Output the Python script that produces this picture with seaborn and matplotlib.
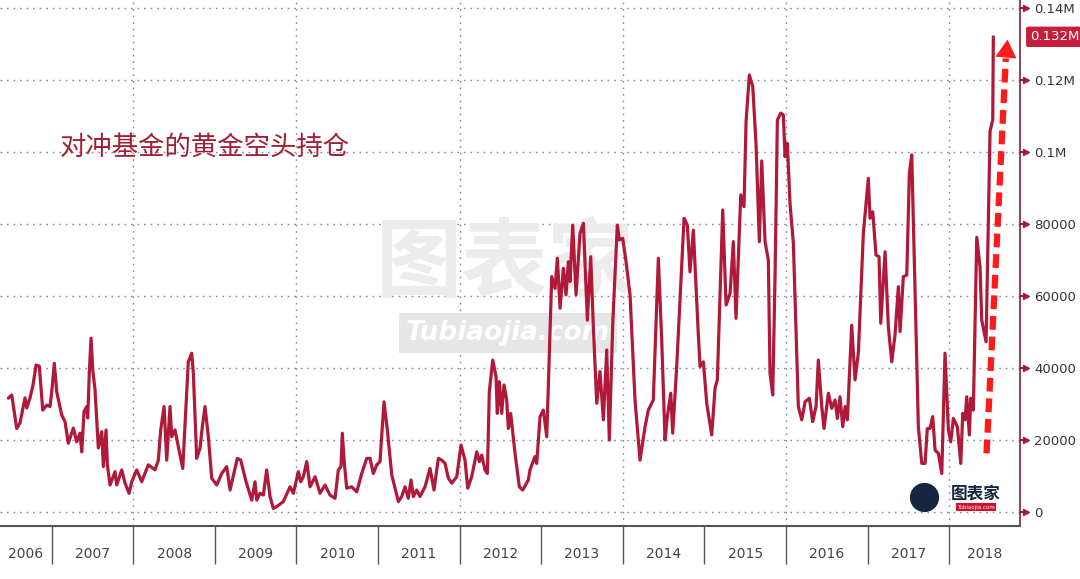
import numpy as np
import pandas as pd
import matplotlib
matplotlib.use("Agg")
import matplotlib.pyplot as plt
import matplotlib.transforms as mtransforms
import seaborn as sns

# Data (decimal years, contracts)
dates = [
    2006.468, 2006.510, 2006.571, 2006.611, 2006.673, 2006.694, 2006.734, 2006.771, 2006.808, 2006.848,
    2006.890, 2006.939, 2006.979, 2007.000, 2007.032, 2007.061, 2007.123, 2007.163, 2007.203, 2007.265,
    2007.306, 2007.347, 2007.368, 2007.396, 2007.429, 2007.441, 2007.461, 2007.482, 2007.503, 2007.531,
    2007.571, 2007.613, 2007.633, 2007.666, 2007.682, 2007.715, 2007.776, 2007.797, 2007.858, 2007.899,
    2007.948, 2007.981, 2008.042, 2008.103, 2008.184, 2008.266, 2008.307, 2008.336, 2008.377, 2008.410,
    2008.450, 2008.471, 2008.511, 2008.606, 2008.674, 2008.716, 2008.736, 2008.777, 2008.818, 2008.846,
    2008.879, 2008.920, 2008.961, 2009.023, 2009.084, 2009.145, 2009.186, 2009.275, 2009.317, 2009.382,
    2009.452, 2009.492, 2009.513, 2009.553, 2009.594, 2009.635, 2009.676, 2009.716, 2009.758, 2009.839,
    2009.921, 2009.962, 2010.023, 2010.052, 2010.084, 2010.126, 2010.166, 2010.228, 2010.289, 2010.350,
    2010.411, 2010.473, 2010.513, 2010.546, 2010.562, 2010.587, 2010.616, 2010.677, 2010.739, 2010.800,
    2010.861, 2010.902, 2010.942, 2010.984, 2011.024, 2011.073, 2011.114, 2011.168, 2011.208, 2011.249,
    2011.290, 2011.331, 2011.371, 2011.404, 2011.433, 2011.474, 2011.515, 2011.576, 2011.637, 2011.686,
    2011.739, 2011.781, 2011.821, 2011.862, 2011.903, 2011.965, 2012.017, 2012.066, 2012.099, 2012.148,
    2012.210, 2012.242, 2012.271, 2012.311, 2012.340, 2012.364, 2012.406, 2012.446, 2012.462, 2012.487,
    2012.516, 2012.544, 2012.577, 2012.597, 2012.626, 2012.679, 2012.732, 2012.774, 2012.842, 2012.863,
    2012.924, 2012.945, 2012.986, 2013.026, 2013.068, 2013.087, 2013.129, 2013.170, 2013.198, 2013.231,
    2013.272, 2013.304, 2013.333, 2013.353, 2013.386, 2013.427, 2013.476, 2013.517, 2013.566, 2013.607,
    2013.639, 2013.681, 2013.721, 2013.762, 2013.803, 2013.835, 2013.877, 2013.933, 2013.958, 2013.999,
    2014.040, 2014.089, 2014.150, 2014.211, 2014.273, 2014.313, 2014.374, 2014.436, 2014.477, 2014.518,
    2014.546, 2014.588, 2014.612, 2014.661, 2014.751, 2014.791, 2014.824, 2014.865, 2014.926, 2014.947,
    2014.988, 2015.029, 2015.090, 2015.131, 2015.159, 2015.225, 2015.266, 2015.315, 2015.355, 2015.388,
    2015.446, 2015.486, 2015.511, 2015.551, 2015.593, 2015.633, 2015.674, 2015.703, 2015.744, 2015.784,
    2015.805, 2015.838, 2015.867, 2015.895, 2015.936, 2015.968, 2015.989, 2016.017, 2016.050, 2016.091,
    2016.152, 2016.194, 2016.234, 2016.287, 2016.328, 2016.369, 2016.397, 2016.439, 2016.467, 2016.520,
    2016.561, 2016.602, 2016.630, 2016.663, 2016.696, 2016.725, 2016.753, 2016.786, 2016.806, 2016.847,
    2016.887, 2016.949, 2017.010, 2017.031, 2017.064, 2017.104, 2017.141, 2017.162, 2017.215, 2017.255,
    2017.297, 2017.337, 2017.378, 2017.399, 2017.439, 2017.481, 2017.513, 2017.542, 2017.583, 2017.623,
    2017.665, 2017.705, 2017.733, 2017.766, 2017.799, 2017.828, 2017.868, 2017.910, 2017.950, 2017.991,
    2018.020, 2018.052, 2018.101, 2018.143, 2018.167, 2018.196, 2018.216, 2018.248, 2018.265, 2018.297,
    2018.339, 2018.379, 2018.400, 2018.453, 2018.502, 2018.535, 2018.542,
]
shorts = [
    31600, 32500, 23200, 24700, 31700, 28900, 31700, 35300, 40800, 40500,
    28300, 29700, 29300, 33400, 41300, 33400, 26900, 25100, 19100, 23300,
    19500, 21900, 16700, 27900, 29300, 26100, 39000, 48300, 39400, 33900,
    17800, 22300, 12600, 22800, 13100, 7500, 11200, 7500, 11700, 8000,
    5200, 8400, 11700, 8400, 13100, 11700, 14400, 22800, 29300, 14400,
    29300, 20900, 22800, 12100, 41700, 44100, 38500, 14900, 17700, 23700,
    29300, 20900, 9400, 7500, 10700, 12600, 6100, 14900, 14400, 8400,
    3300, 8400, 3300, 5200, 4700, 11700, 4300, 1000, 1500, 2900,
    7000, 5200, 11200, 8400, 9800, 14000, 7000, 9800, 5200, 7500,
    4700, 3800, 11700, 12600, 21900, 13500, 6600, 7000, 5600, 10700,
    14900, 14900, 10700, 13100, 14000, 30600, 22800, 10300, 6600, 2900,
    4300, 7000, 3800, 8900, 4300, 6100, 4300, 7000, 12100, 6100,
    14900, 14400, 13500, 9400, 8000, 9800, 18600, 14400, 6600, 9800,
    16700, 14000, 15800, 11700, 10700, 33400, 42200, 37600, 27400, 36200,
    27400, 35300, 31100, 23200, 27400, 16300, 7000, 6100, 8900, 11700,
    15400, 13500, 26500, 28300, 20900, 34800, 65400, 62100, 70500, 56600,
    67700, 60300, 69500, 64000, 79700, 60300, 77400, 80200, 53300, 70900,
    51500, 30200, 39000, 25600, 45000, 20000, 52400, 79700, 75600, 76000,
    69500, 60300, 31100, 14400, 23700, 28300, 31100, 70500, 47800, 20000,
    26500, 33000, 21900, 40400, 81600, 79700, 66700, 78300, 49200, 40400,
    41700, 30200, 21400, 34400, 36700, 83900, 57500, 60700, 75100, 53800,
    88100, 84800, 108400, 121400, 118200, 102400, 75100, 97500, 75100, 70000,
    38500, 32500, 66300, 108900, 110800, 110300, 98700, 102400, 85700, 74600,
    29300, 25600, 30600, 31600, 25100, 29300, 42200, 29300, 23200, 33000,
    28800, 31100, 26000, 32000, 23700, 29300, 25600, 42200, 51900, 36700,
    44100, 77400, 92700, 81600, 83400, 71400, 70900, 52400, 72300, 51500,
    41700, 49200, 62600, 50100, 65400, 65800, 94100, 99200, 60700, 23700,
    13500, 13500, 23200, 23200, 26500, 17200, 16300, 10700, 44100, 22800,
    19500, 26000, 23700, 13500, 27400, 25600, 32000, 21400, 31600, 28300,
    76300, 68100, 53300, 47300, 105800, 108900, 132000,
]
year_ticks = list(range(2007, 2019))
year_labels = [str(y) for y in range(2006, 2019)]
y_ticks = [0, 20000, 40000, 60000, 80000, 100000, 120000, 140000]
y_labels = ['0', '20000', '40000', '60000', '80000', '0.1M', '0.12M', '0.14M']
last_label = '0.132M'
title = '对冲基金的黄金空头持仓'

df = pd.DataFrame({'date': dates, 'shorts': shorts})

sns.set_theme(style="white")
plt.rcParams['font.family'] = ['DejaVu Sans', 'Noto Sans CJK SC']

X_MIN, X_MAX = 2006.366, 2018.869
Y_MIN, Y_MAX = -3889, 142222
LINE = '#b0193a'
TICK_RED = '#a8163a'

fig = plt.figure(figsize=(10.8, 5.79), dpi=100)
ax = fig.add_axes([0, 1 - 526 / 579, 1020 / 1080, 526 / 579])

sns.lineplot(data=df, x='date', y='shorts', color=LINE, linewidth=2.3, ax=ax, zorder=3)

ax.set_xlim(X_MIN, X_MAX)
ax.set_ylim(Y_MIN, Y_MAX)
ax.set_xlabel('')
ax.set_ylabel('')

# right axis labels
ax.yaxis.tick_right()
ax.set_yticks(y_ticks)
ax.set_yticklabels(y_labels)
ax.tick_params(axis='y', which='major', direction='out', length=4, width=1.5,
               right=True, left=False,
               color=TICK_RED, labelsize=9.5, labelcolor='#333333', pad=6)
# little arrow heads on the right ticks
trans_r = mtransforms.blended_transform_factory(ax.transAxes, ax.transData)
ax.plot([1.0] * len(y_ticks), y_ticks, linestyle='none', marker='>', markersize=5,
        color=TICK_RED, transform=mtransforms.offset_copy(trans_r, fig=fig, x=4, units='points'),
        clip_on=False, zorder=6)

ax.yaxis.grid(True, linestyle=(0, (1.2, 3.5)), color='#8a8a8a', linewidth=1)
for y in year_ticks[1::2]:
    ax.axvline(y, linestyle=(0, (1.2, 3.5)), color='#8a8a8a', linewidth=1, zorder=1)

# year band under the plot
ax.set_xticks(year_ticks)
ax.set_xticklabels([''] * len(year_ticks))
ax.tick_params(axis='x', which='major', direction='out', length=27, width=1,
               color='#555555', bottom=True)
mids = [(max(y, X_MIN) + min(y + 1, X_MAX)) / 2 for y in range(2006, 2019)]
ax.set_xticks(mids, minor=True)
ax.set_xticklabels(year_labels, minor=True)
ax.tick_params(axis='x', which='minor', length=0, pad=15, labelsize=10,
               labelcolor='#444444', bottom=True)

for side in ['top', 'left']:
    ax.spines[side].set_visible(False)
ax.spines['right'].set_color('#7d2236')
ax.spines['right'].set_linewidth(1.2)
ax.spines['bottom'].set_color('#555555')
ax.spines['bottom'].set_linewidth(1.5)

# title
fig.text(60 / 1080, 1 - 147 / 579, title, color='#a01f36', fontsize=19,
         va='center', ha='left', family=['Noto Sans CJK SC', 'DejaVu Sans'])

# last value tag
ax.annotate(last_label, xy=(1.0, shorts[-1]), xycoords=('axes fraction', 'data'),
            xytext=(7, 0), textcoords='offset points', ha='left', va='center',
            color='white', fontsize=9.5,
            bbox=dict(boxstyle='round,pad=0.28,rounding_size=0.15', fc='#c61f3d', ec='none'),
            annotation_clip=False, zorder=7)

# dashed trend arrow
ax.plot([2018.459, 2018.695], [16300, 126000], linestyle=(0, (2.2, 1.1)),
        linewidth=4.5, color='#ff1a1a', solid_capstyle='butt', dash_capstyle='butt', zorder=4)
ax.annotate('', xy=(2018.718, 132000), xytext=(2018.694, 125500),
            arrowprops=dict(arrowstyle='-|>,head_length=0.65,head_width=0.38',
                            color='#ff1a1a', lw=0, mutation_scale=20), zorder=4)

# watermarks
ax.text(505 / 1020, 1 - 265 / 526, '图表家', transform=ax.transAxes, fontsize=62,
        color='#ececec', ha='center', va='center', fontweight='bold', style='italic',
        family=['Noto Sans CJK SC'], zorder=1)
ax.text(508 / 1020, 1 - 333 / 526, 'Tubiaojia.com', transform=ax.transAxes, fontsize=19,
        color='white', ha='center', va='center', fontweight='bold', style='italic',
        bbox=dict(boxstyle='square,pad=0.25', fc='#e6e6e6', ec='none'), zorder=1)

# small logo bottom right
ax.plot([924 / 1020], [1 - 497 / 526], marker='o', markersize=20, color='#16263f',
        transform=ax.transAxes, clip_on=False, zorder=5)
ax.text(976 / 1020, 1 - 494 / 526, '图表家', transform=ax.transAxes, fontsize=12,
        color='#16263f', ha='center', va='center', fontweight='bold',
        family=['Noto Sans CJK SC'], zorder=5)
ax.text(976 / 1020, 1 - 507 / 526, 'Tubiaojia.com', transform=ax.transAxes, fontsize=4,
        color='white', ha='center', va='center',
        bbox=dict(boxstyle='square,pad=0.2', fc='#d0112b', ec='none'), zorder=5)

fig.savefig('out.png', dpi=100, facecolor='white')
